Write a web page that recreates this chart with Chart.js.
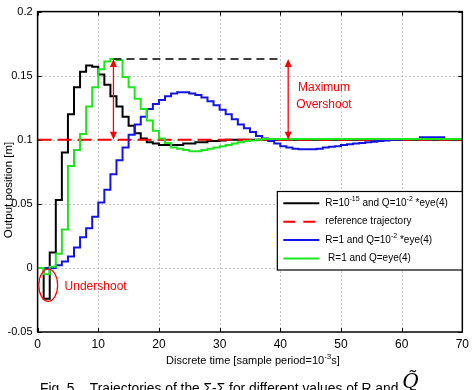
<!DOCTYPE html>
<html><head><meta charset="utf-8">
<script src="https://cdn.jsdelivr.net/npm/chart.js@4.4.1/dist/chart.umd.min.js"></script>
<style>html,body{margin:0;padding:0;background:#fff}#wrap{width:474px;height:390px;position:relative}</style>
</head><body><div id="wrap"><canvas id="c" width="474" height="390"></canvas></div>
<script>
// ---- data ----
const steps = Array.from({length: 71}, (_, i) => i);
const blackVals = [0,-0.024,0.012,0.053,0.090,0.120,0.141,0.153,0.158,0.157,
  0.151,0.143,0.134,0.126,0.118,0.111,0.105,0.101,0.098,0.097,
  0.096,0.096,0.096,0.096,0.097,0.097,0.098,0.098,0.099,0.099,
  0.0995,0.1,0.1,0.1,0.1,0.1,0.1,0.1,0.1,0.1,
  0.1,0.1,0.1,0.1,0.1,0.1,0.1,0.1,0.1,0.1,
  0.1,0.1,0.1,0.1,0.1,0.1,0.1,0.1,0.1,0.1,
  0.1,0.1,0.1,0.1,0.1,0.1,0.1,0.1,0.1,0.1,0.1];
const greenVals = [0,-0.005,0.001,0.011,0.030,0.0795,0.092,0.1045,0.126,0.141,
  0.155,0.161,0.163,0.162,0.149,0.141,0.132,0.124,0.115,0.107,
  0.101,0.0975,0.094,0.093,0.092,0.091,0.091,0.092,0.093,0.094,
  0.095,0.096,0.097,0.098,0.099,0.0995,0.100,0.1005,0.1005,0.1005,
  0.1005,0.1005,0.1005,0.1005,0.1005,0.1005,0.1005,0.1005,0.1005,0.1005,
  0.1005,0.1005,0.1005,0.1005,0.1005,0.1005,0.1005,0.1005,0.1005,0.1005,
  0.1005,0.1005,0.1005,0.1005,0.1005,0.1005,0.1005,0.1005,0.1005,0.1005,0.1005];
const blueVals = [0,0,0,0.002,0.005,0.009,0.016,0.024,0.031,0.040,
  0.051,0.061,0.073,0.084,0.094,0.104,0.112,0.118,0.124,0.128,
  0.131,0.134,0.136,0.137,0.137,0.136,0.135,0.133,0.130,0.127,
  0.1235,0.120,0.116,0.112,0.109,0.106,0.103,0.101,0.099,0.097,
  0.095,0.094,0.093,0.0925,0.0925,0.0925,0.093,0.094,0.0945,0.095,
  0.096,0.0965,0.097,0.0975,0.098,0.0985,0.099,0.0995,0.100,0.100,
  0.1005,0.1005,0.1005,0.102,0.102,0.102,0.102,0.1005,0.1005,0.1005,0.1005];
const refX = [0, 70];
const refVals = [0.1, 0.1];
const legendLabels = ['R=10^{-15} and Q=10^{-2} *eye(4)', 'reference trajectory', 'R=1 and Q=10^{-2} *eye(4)', ' R=1 and Q=eye(4)'];
const xTickValues = [0,10,20,30,40,50,60,70];
const yTickValues = [-0.05,0,0.05,0.1,0.15,0.2];
const yTickLabels = ['-0.05','0','0.05','0.1','0.15','0.2'];
const xTitle = 'Discrete time [sample period=10^{-3}s]';
const yTitle = 'Output position [m]';
const caption = 'Fig. 5    Trajectories of the Σ-Σ for different values of R and';
const captionSymbol = 'Q̃';
// annotation values (data units)
const overshootLevel = 0.163, referenceLevel = 0.1;
const dashStartX = 12.5, dashEndX = 39.8, arrow1X = 12.5, arrow2X = 41.3;
const overshootText = ['Maximum', 'Overshoot'];
const overshootTextAt = [47.2, 0.1404, 0.1274];
const underText = 'Undershoot';
const underTextAt = [4.45, -0.0145];
const ellipseAt = [1.75, -0.0135, 1.55, 0.0126];

const F = '"Liberation Sans", Arial, sans-serif';
const colors = {black:'#000000', red:'#ff0000', blue:'#1414e6', green:'#1ee61e'};

function toPts(xs, ys){ return xs.map((x,i)=>({x, y: ys[i]})); }

function richText(ctx, str, x, y, size, align){
  const parts = [];
  const re = /\^\{([^}]*)\}/g; let last = 0, m;
  while((m = re.exec(str))){ if(m.index>last) parts.push({t:str.slice(last,m.index)}); parts.push({t:m[1], sup:true}); last = re.lastIndex; }
  if(last < str.length) parts.push({t:str.slice(last)});
  let w = 0;
  parts.forEach(p=>{ ctx.font = (p.sup? Math.round(size*0.7):size)+'px '+F; p.w = ctx.measureText(p.t).width; w += p.w; });
  let cx = align==='center' ? x - w/2 : x;
  ctx.textAlign = 'left'; ctx.textBaseline = 'middle';
  parts.forEach(p=>{ ctx.font = (p.sup? Math.round(size*0.7):size)+'px '+F; ctx.fillText(p.t, cx, p.sup ? y - size*0.4 : y); cx += p.w; });
}

function arrow(ctx, x, y1, y2){
  const hl = 8, hw = 3.5;
  ctx.beginPath(); ctx.moveTo(x, y1+hl-1); ctx.lineTo(x, y2-hl+1); ctx.stroke();
  ctx.beginPath(); ctx.moveTo(x, y1); ctx.lineTo(x-hw, y1+hl); ctx.lineTo(x+hw, y1+hl); ctx.closePath(); ctx.fill();
  ctx.beginPath(); ctx.moveTo(x, y2); ctx.lineTo(x-hw, y2-hl); ctx.lineTo(x+hw, y2-hl); ctx.closePath(); ctx.fill();
}

const decor = {
  id: 'decor',
  beforeDatasetsDraw(chart){
    const {ctx, chartArea:a, scales:{x, y}} = chart;
    ctx.save();
    ctx.strokeStyle = '#8c8c8c'; ctx.lineWidth = 1; ctx.setLineDash([1,3]);
    xTickValues.forEach(t=>{ if(t<=x.min||t>=x.max) return; const p = Math.round(x.getPixelForValue(t))+0.5;
      ctx.beginPath(); ctx.moveTo(p, a.top); ctx.lineTo(p, a.bottom); ctx.stroke(); });
    yTickValues.forEach(t=>{ if(t<=y.min||t>=y.max) return; const p = Math.round(y.getPixelForValue(t))+0.5;
      ctx.beginPath(); ctx.moveTo(a.left, p); ctx.lineTo(a.right, p); ctx.stroke(); });
    ctx.setLineDash([]);
    ctx.strokeStyle = '#000';
    xTickValues.forEach(t=>{ const p = Math.round(x.getPixelForValue(t))+0.5;
      ctx.beginPath(); ctx.moveTo(p, a.bottom); ctx.lineTo(p, a.bottom-4); ctx.moveTo(p, a.top); ctx.lineTo(p, a.top+4); ctx.stroke(); });
    yTickValues.forEach(t=>{ const p = Math.round(y.getPixelForValue(t))+0.5;
      ctx.beginPath(); ctx.moveTo(a.left, p); ctx.lineTo(a.left+4, p); ctx.moveTo(a.right, p); ctx.lineTo(a.right-4, p); ctx.stroke(); });
    ctx.restore();
  },
  afterDatasetsDraw(chart){
    const {ctx, chartArea:a, scales:{x, y}} = chart;
    ctx.save();
    // box
    ctx.strokeStyle = '#000'; ctx.lineWidth = 1.5;
    ctx.strokeRect(a.left, a.top, a.right-a.left, a.bottom-a.top);
    // dashed max level
    ctx.lineWidth = 1.3; ctx.setLineDash([8,5]);
    ctx.beginPath(); ctx.moveTo(x.getPixelForValue(dashStartX), y.getPixelForValue(overshootLevel));
    ctx.lineTo(x.getPixelForValue(dashEndX), y.getPixelForValue(overshootLevel)); ctx.stroke();
    ctx.setLineDash([]);
    // arrows
    ctx.strokeStyle = colors.red; ctx.fillStyle = colors.red; ctx.lineWidth = 1.3;
    [arrow1X, arrow2X].forEach(v=> arrow(ctx, x.getPixelForValue(v), y.getPixelForValue(overshootLevel), y.getPixelForValue(referenceLevel)));
    // texts
    ctx.fillStyle = colors.red;
    ctx.font = '12px '+F; ctx.textAlign = 'center'; ctx.textBaseline = 'middle';
    ctx.fillText(overshootText[0], x.getPixelForValue(overshootTextAt[0]), y.getPixelForValue(overshootTextAt[1]));
    ctx.fillText(overshootText[1], x.getPixelForValue(overshootTextAt[0]), y.getPixelForValue(overshootTextAt[2]));
    ctx.textAlign = 'left';
    ctx.fillText(underText, x.getPixelForValue(underTextAt[0]), y.getPixelForValue(underTextAt[1]));
    // ellipse
    ctx.lineWidth = 1.2;
    const ex = x.getPixelForValue(ellipseAt[0]), ey = y.getPixelForValue(ellipseAt[1]);
    const rx = x.getPixelForValue(ellipseAt[0]+ellipseAt[2]) - ex, ry = ey - y.getPixelForValue(ellipseAt[1]+ellipseAt[3]);
    ctx.beginPath(); ctx.ellipse(ex, ey, rx, ry, 0, 0, Math.PI*2); ctx.stroke();
    // legend
    const L = a.right - 185, T = 191.5, R = a.right, B = 270;
    ctx.fillStyle = '#fff'; ctx.fillRect(L, T, R-L, B-T);
    ctx.strokeStyle = '#000'; ctx.lineWidth = 1.2; ctx.strokeRect(L, T, R-L, B-T);
    const ds = chart.data.datasets;
    [0,1,2,3].forEach((i, r)=>{
      const d = ds.find(dd=>dd.legendIndex===i);
      const ry2 = T + 11.8 + r*18.4;
      ctx.strokeStyle = d.borderColor; ctx.lineWidth = 2;
      ctx.setLineDash(d.legendDash || []);
      ctx.beginPath(); ctx.moveTo(L+6, ry2); ctx.lineTo(L+42, ry2); ctx.stroke();
      ctx.setLineDash([]);
      ctx.fillStyle = '#000';
      richText(ctx, d.label, L+48, ry2, 10, 'left');
    });
    // axis titles
    ctx.fillStyle = '#000';
    richText(ctx, xTitle, (a.left+a.right)/2 + 3, 361, 11, 'center');
    // caption (cut by the bottom edge, as in the source)
    ctx.font = '13.8px '+F; ctx.textAlign = 'left'; ctx.textBaseline = 'top';
    ctx.fillText(caption, 40, 382);
    const cw = ctx.measureText(caption + ' ').width;
    ctx.font = 'italic 20px "DejaVu Serif", serif';
    ctx.fillText(captionSymbol, 40 + cw, 373);
    ctx.translate(8.5, 190); ctx.rotate(-Math.PI/2);
    ctx.font = '11.5px '+F; ctx.textAlign='center'; ctx.textBaseline='middle';
    ctx.fillText(yTitle, 0, 0);
    ctx.restore();
  }
};

const ds = [
  {label: legendLabels[3], legendIndex:3, data: toPts(steps, greenVals), borderColor: colors.green, order: 0},
  {label: legendLabels[2], legendIndex:2, data: toPts(steps, blueVals), borderColor: colors.blue, order: 1},
  {label: legendLabels[1], legendIndex:1, data: toPts(refX, refVals), borderColor: colors.red, borderDash:[14,6], legendDash:[12,8], stepped:false, order: 2},
  {label: legendLabels[0], legendIndex:0, data: toPts(steps, blackVals), borderColor: colors.black, order: 3}
].map(d=>Object.assign({borderWidth: 2, pointRadius: 0, fill: false, stepped: d.stepped===false ? false : 'before', tension: 0}, d));

new Chart(document.getElementById('c'), {
  type: 'line',
  data: {datasets: ds},
  plugins: [decor],
  options: {
    responsive: false, animation: false, devicePixelRatio: 1,
    layout: {padding: {top: 5, right: 6, left: 0, bottom: 0}},
    plugins: {legend: {display: false}, tooltip: {enabled: false}},
    scales: {
      x: {type: 'linear', min: 0, max: 70,
        afterBuildTicks: s => { s.ticks = xTickValues.map(v=>({value: v})); },
        afterFit: s => { s.height = 58; },
        grid: {display: false, drawTicks: false}, border: {display: false},
        ticks: {color: '#000', font: {family: F, size: 12}, padding: 5, maxRotation: 0, autoSkip: false}},
      y: {type: 'linear', min: -0.05, max: 0.2,
        afterBuildTicks: s => { s.ticks = yTickValues.map(v=>({value: v})); },
        afterFit: s => { s.width = 37.6; },
        grid: {display: false, drawTicks: false}, border: {display: false},
        ticks: {color: '#000', font: {family: F, size: 11}, padding: 5, autoSkip: false,
          callback: (v) => { const i = yTickValues.findIndex(t=>Math.abs(t-v)<1e-9); return i>=0 ? yTickLabels[i] : ''; }}}
    }
  }
});
</script></body></html>
